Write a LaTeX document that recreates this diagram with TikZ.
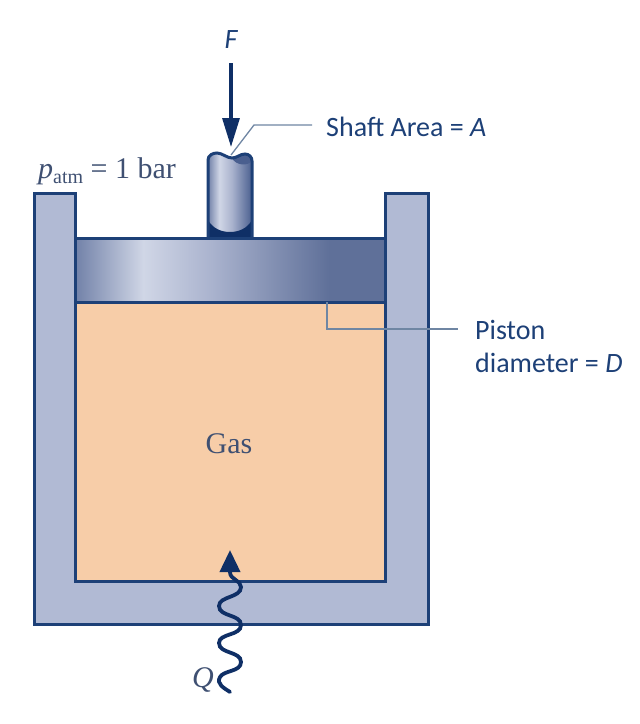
\documentclass[tikz,border=0pt]{standalone}
\usepackage{fontspec}
\setmainfont{Liberation Serif}
\newfontfamily\labelfont{Carlito}
\usetikzlibrary{arrows.meta}
\definecolor{navy}{HTML}{1D4077}
\definecolor{deepnavy}{HTML}{0F2F66}
\definecolor{wallblue}{HTML}{B1BAD4}
\definecolor{gasorange}{HTML}{F7CDA8}
\definecolor{leadergrey}{HTML}{6F86A3}
\definecolor{serifgrey}{HTML}{3F5072}
\definecolor{pistonA}{HTML}{7181A8}
\definecolor{pistonB}{HTML}{D0D6E6}
\definecolor{pistonC}{HTML}{AAB3CE}
\definecolor{pistonD}{HTML}{5F7099}
\definecolor{shaftD}{HTML}{4A5F8F}
\pgfdeclarehorizontalshading{pistonshade}{100bp}{color(0bp)=(pistonA);color(25bp)=(pistonA);color(36bp)=(pistonB);color(47bp)=(pistonC);color(66bp)=(pistonD);color(75bp)=(pistonD);color(100bp)=(pistonD)}
\pgfdeclarehorizontalshading{shaftshade}{100bp}{color(0bp)=(pistonA);color(25bp)=(pistonA);color(38bp)=(pistonB);color(52bp)=(pistonC);color(75bp)=(shaftD);color(100bp)=(shaftD)}
\tikzset{
  outline/.style={draw=navy,line width=3pt,line join=miter},
  leader/.style={draw=leadergrey,line width=1.3pt},
  sanslabel/.style={text=navy,inner sep=0pt,font=\labelfont\fontsize{28}{32}\selectfont},
  seriflabel/.style={text=serifgrey,inner sep=0pt,font=\fontsize{30}{34}\selectfont},
  forcearrow/.style={draw=deepnavy,fill=deepnavy,line width=3.2pt,-{Triangle[length=29pt,width=17pt]}},
  heatarrow/.style={draw=deepnavy,fill=none,line width=3.8pt,line cap=round,-{Triangle[length=22pt,width=20pt,fill=deepnavy]}},
}
\begin{document}
\begin{tikzpicture}[x=1pt,y=-1pt]
\useasboundingbox (0,0) rectangle (640,724);

% cylinder and gas
\node (gas) at (230,441.5) [minimum width=310pt,minimum height=279pt,inner sep=0pt,fill=gasorange] {};
\path[outline,fill=wallblue] (34,193) -- (75,193) -- (75,581) -- (385,581) -- (385,193) -- (428,193) -- (428,624) -- (34,624) -- cycle;

% shaft
\path[shading=shaftshade] (208,238) -- (208,160) .. controls (208,155) and (213,153) .. (217,153) .. controls (222,153) and (227,158) .. (232,158) .. controls (237,158) and (240,154) .. (245,154) .. controls (249,154) and (252,157) .. (252,161) -- (252,238) -- cycle;
\fill[shaftD] (232,158) .. controls (237,158) and (240,154) .. (245,154) .. controls (249,154) and (252,157) .. (252,161) .. controls (248,166) and (236,166) .. (232,158) -- cycle;
\fill[deepnavy] (208,238) -- (208,220) .. controls (213,229) and (222,232) .. (230,232) .. controls (238,232) and (247,229) .. (252,220) -- (252,238) -- cycle;
\draw[outline] (208,238) -- (208,160) .. controls (208,155) and (213,153) .. (217,153) .. controls (222,153) and (227,158) .. (232,158) .. controls (237,158) and (240,154) .. (245,154) .. controls (249,154) and (252,157) .. (252,161) -- (252,238);

% piston
\node (piston) at (230,270) [minimum width=310pt,minimum height=64pt,inner sep=0pt,shading=pistonshade,outline] {};

% labels
\node (F) at (231,40) [sanslabel] {\itshape F};
\node (shaftlabel) at (326,127) [sanslabel,anchor=west] {Shaft Area = \textit{A}};
\node (pistonlabel) at (475,330) [sanslabel,anchor=west] {Piston};
\node (diamlabel) at (475,363) [sanslabel,anchor=west] {diameter = \textit{D}};
\node (patm) at (38,171) [seriflabel,anchor=west] {\textit{p}\raisebox{-5pt}{\fontsize{20}{22}\selectfont atm} = 1 bar};
\node (gaslabel) at (229,444) [seriflabel] {Gas};
\node (Q) at (203,680) [seriflabel] {\textit{Q}};

% leaders and arrows
\coordinate (forcestart) at (231,63);
\coordinate (forcetip) at (231,147);
\coordinate (shaftdip) at (231,155);
\coordinate (shaftend) at (312,125);
\coordinate (pistonfoot) at (327,302);
\coordinate (pistonend) at (458,329);
\coordinate (heatstart) at (230,692);
\coordinate (heattip) at (230,550);
\draw[leader] (shaftdip) -- (254,125) -- (shaftend);
\draw[leader] (pistonfoot) |- (pistonend);
\draw[forcearrow] (forcestart) -- (forcetip);
\draw[heatarrow] (heatstart) .. controls (224,688) and (216,684) .. (220,677) .. controls (224,670) and (241,672) .. (241,662) .. controls (241,651) and (219,654) .. (219,643) .. controls (219,633) and (241,636) .. (241,625) .. controls (241,614) and (219,617) .. (219,606) .. controls (219,596) and (241,598) .. (241,587) .. controls (241,580) and (230,580) .. (230,572) -- (heattip);
\end{tikzpicture}
\end{document}
